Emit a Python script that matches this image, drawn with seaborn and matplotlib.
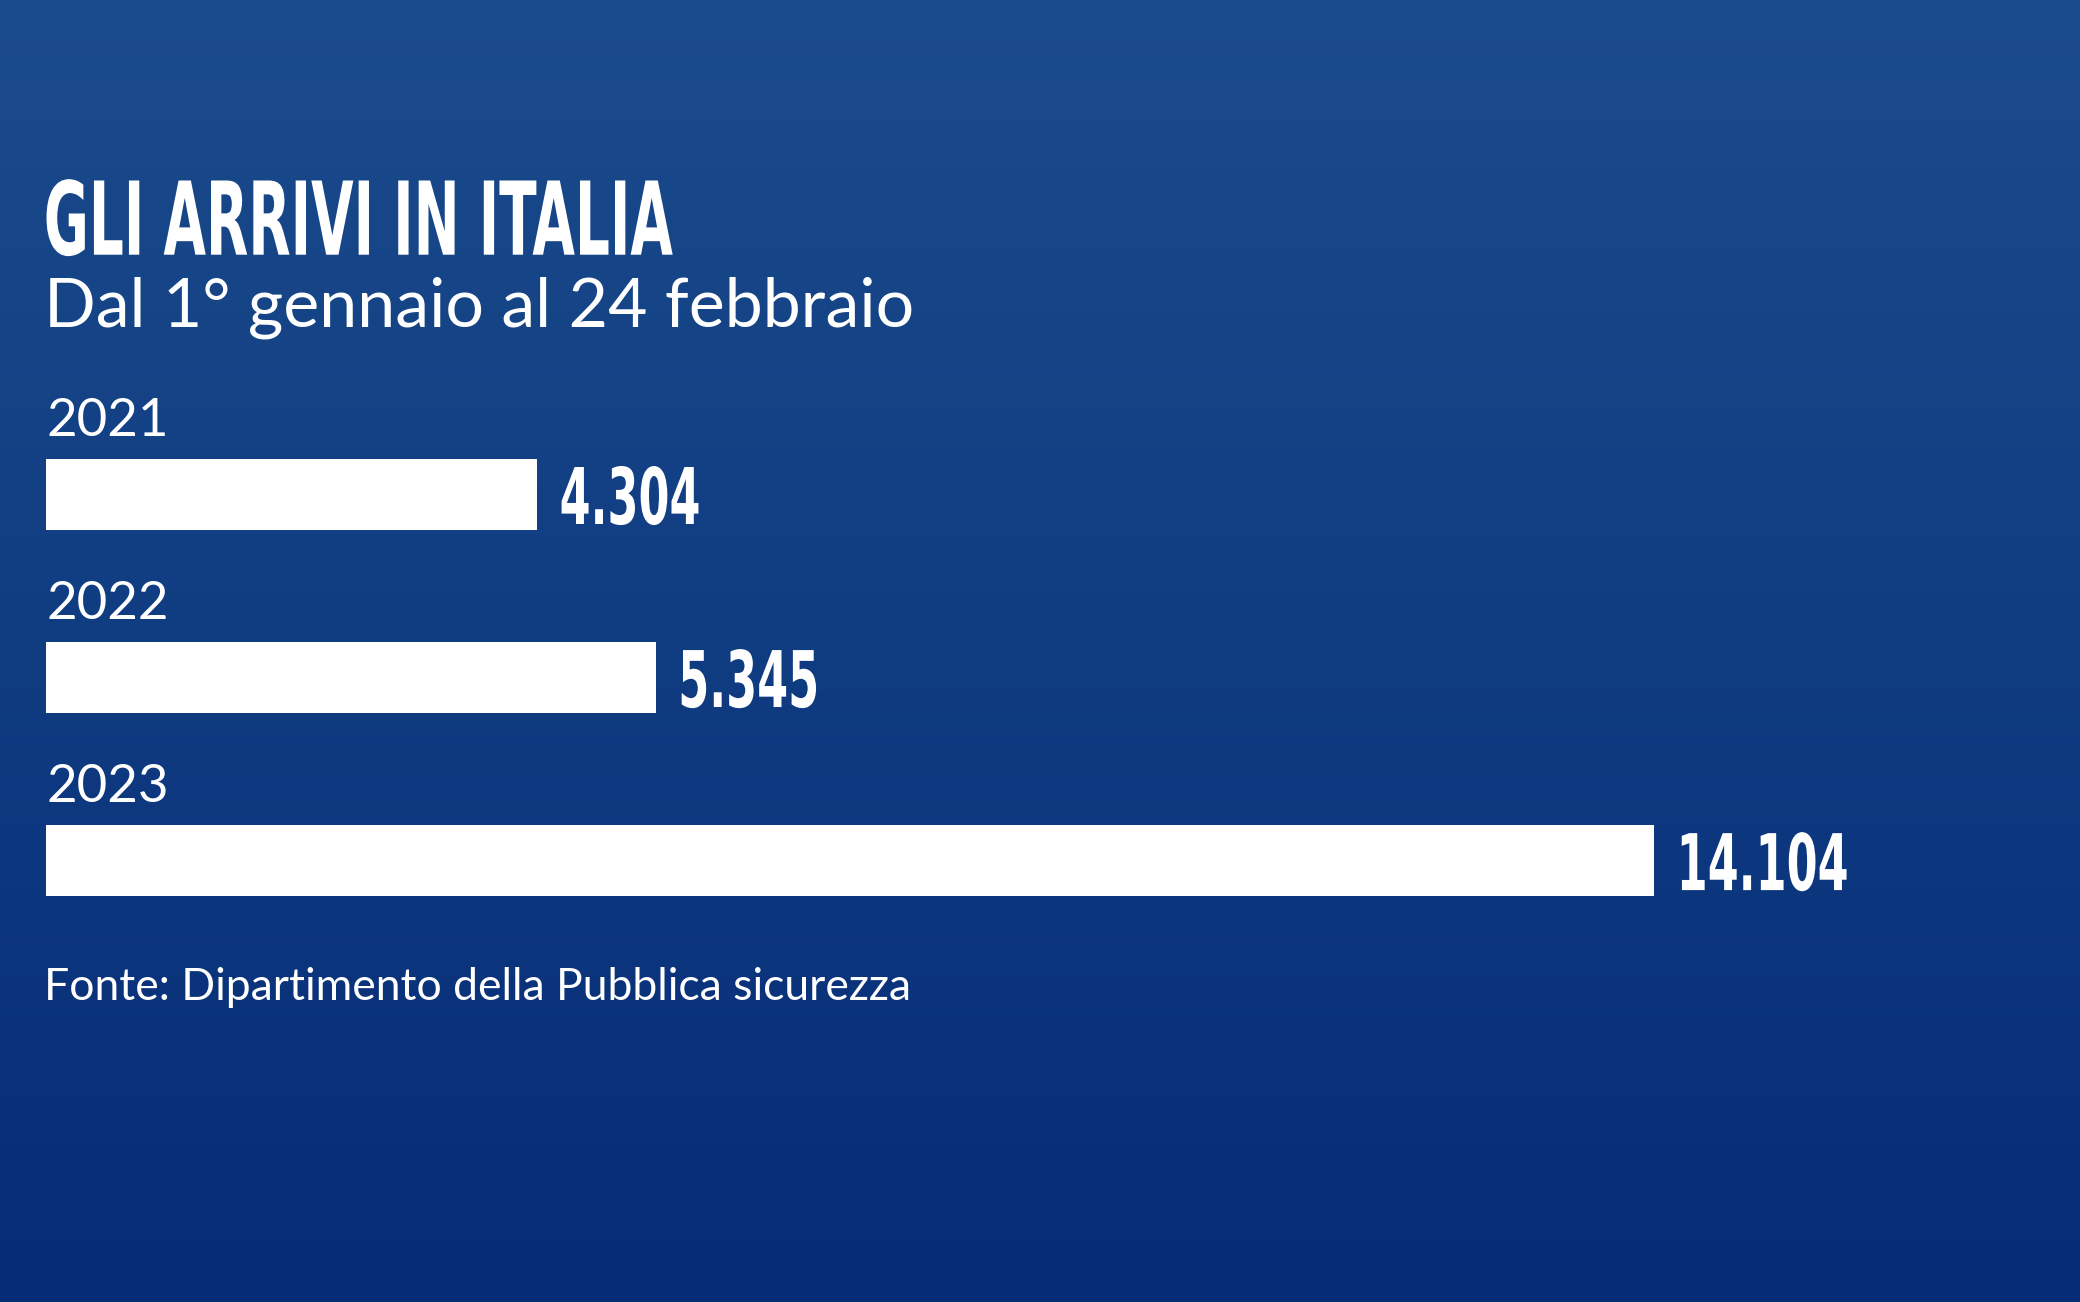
import numpy as np
import pandas as pd
import matplotlib
matplotlib.use("Agg")
import matplotlib.pyplot as plt
import seaborn as sns
from matplotlib.textpath import TextPath
from matplotlib.patches import PathPatch
from matplotlib.font_manager import FontProperties
from matplotlib.transforms import Affine2D, IdentityTransform

years = ["2021", "2022", "2023"]
values = [4304, 5345, 14104]
value_labels = ["4.304", "5.345", "14.104"]
title = "GLI ARRIVI IN ITALIA"
subtitle = "Dal 1° gennaio al 24 febbraio"
source = "Fonte: Dipartimento della Pubblica sicurezza"

sns.set_theme(style="white")
W, H = 1568, 982
S = 2080 / W
fig = plt.figure(figsize=(20.8, 13.02), dpi=100)

bg = fig.add_axes([0, 0, 1, 1])
grad = np.linspace(0, 1, 256).reshape(-1, 1)
top = np.array([0x1b, 0x4c, 0x8c]) / 255
bot = np.array([0x05, 0x2c, 0x77]) / 255
img = top[None, None, :] * (1 - grad[:, :, None]) + bot[None, None, :] * grad[:, :, None]
bg.imshow(img, aspect="auto", extent=[0, 1, 0, 1])
bg.axis("off")

df = pd.DataFrame({"year": years, "value": values})
left = 35 / W
ax = fig.add_axes([left, 1 - 700 / H, 1 - left, 400 / H])
ax.patch.set_alpha(0)
sns.barplot(data=df, x="value", y="year", orient="h", color="white",
            width=54 / 138, saturation=1, ax=ax)
for p in ax.patches:
    p.set_edgecolor("none")
units_per_px = 14104 / (1247 - 35)
ax.set_xlim(0, (W - 35) * units_per_px)
ax.set_ylim((700 - 373) / 138, (300 - 373) / 138)
ax.axis("off")

bold = FontProperties(family="DejaVu Sans", weight="bold")
fig_h_px = 1302


def condensed(x_disp, base_disp, text, cap_disp, xscale):
    size = cap_disp * S / 0.73
    tp = TextPath((0, 0), text, size=1, prop=bold)
    tr = Affine2D().scale(size * xscale, size).translate(x_disp * S, fig_h_px - base_disp * S)
    fig.patches.append(PathPatch(tp, transform=tr + IdentityTransform(),
                                 facecolor="white", edgecolor="none"))


for i, (y, v, lab) in enumerate(zip(years, values, value_labels)):
    xpix = ax.transData.transform((v, i))[0] / S + 17
    condensed(xpix, 395 + 138 * i, lab, 43, 0.57)
    ax.text(0, i - 55 / 138, y, color="white", fontsize=38,
            family=["Lato", "DejaVu Sans"], va="center", ha="left")

condensed(33, 192, title, 56, 0.54)
fig.text(33 / W, 1 - 232 / H, subtitle, color="white", fontsize=49,
         family=["Lato", "DejaVu Sans"], va="center", ha="left")
fig.text(33 / W, 1 - 745 / H, source, color="white", fontsize=32,
         family=["Lato", "DejaVu Sans"], va="center", ha="left")

fig.savefig("out.png", dpi=100)
